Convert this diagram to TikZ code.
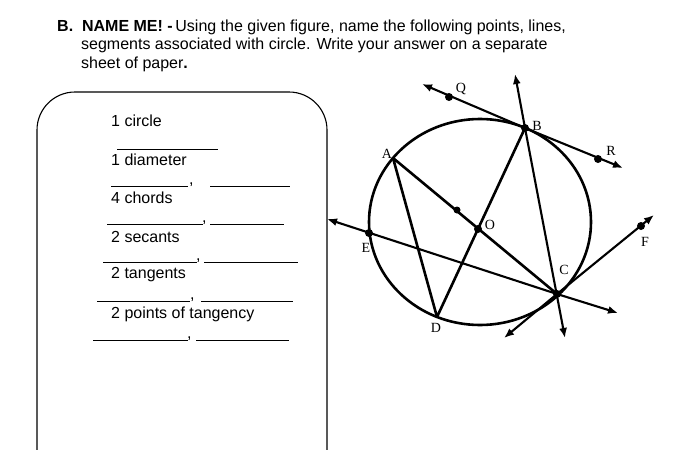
\documentclass[tikz,border=0pt]{standalone}
\usepackage{fontspec}
\usetikzlibrary{arrows.meta}
\setmainfont{Liberation Sans}
\newfontfamily\serifl{Liberation Serif}
\begin{document}
\begin{tikzpicture}[x=1pt,y=-1pt,
  txt/.style={anchor=west,inner sep=0pt,font=\fontsize{16}{18}\selectfont},
  lbl/.style={inner sep=1pt,font=\serifl\fontsize{14}{16}\selectfont},
  geo/.style={line width=2.6pt},
  arr/.style={line width=2.1pt,-{Latex[length=10pt,width=8pt]}},
  dot/.style={circle,fill,inner sep=0pt,minimum size=8pt},
  blank/.style={line width=0.9pt}]
\useasboundingbox (0,0) rectangle (686,450);
% title
\node[txt] (t1) at (57,27) {\textbf{B.\ \ NAME ME! -}\,Using the given figure, name the following points, lines,};
\node[txt] (t2) at (81,45) {segments associated with circle. Write your answer on a separate};
\node[txt] (t3) at (81,64) {sheet of paper\textbf{.}};
% box
\draw[line width=1.1pt,rounded corners=38pt] (37,460) -- (37,92) -- (327,92) -- (327,460);
\node[txt] (l1) at (111,121) {1 circle};
\draw[blank] (117,149) -- (218,149);
\node[txt] (l2) at (111,160) {1 diameter};
\draw[blank] (111,186) -- (188,186); \node[txt] (c2) at (189,185) {,}; \draw[blank] (210,186) -- (290,186);
\node[txt] (l3) at (111,198) {4 chords};
\draw[blank] (107,224) -- (203,224); \node[txt] (c3) at (202,223) {,}; \draw[blank] (210,224) -- (284,224);
\node[txt] (l4) at (111,237) {2 secants};
\draw[blank] (103,262) -- (197,262); \node[txt] (c4) at (196,261) {,}; \draw[blank] (204,262) -- (298,262);
\node[txt] (l5) at (111,275) {2 tangents};
\draw[blank] (97,301) -- (190,301); \node[txt] (c5) at (190,300) {,}; \draw[blank] (201,301) -- (293,301);
\node[txt] (l6) at (111,314) {2 points of tangency};
\draw[blank] (93,340) -- (188,340); \node[txt] (c6) at (187,339) {,}; \draw[blank] (196,340) -- (289,340);
% figure
\draw[geo] (480,222) ellipse [x radius=111,y radius=103];
\coordinate (A) at (393,158); \coordinate (B) at (525,128); \coordinate (C) at (557,294);
\coordinate (D) at (437,317); \coordinate (E) at (369,233); \coordinate (O) at (478,229);
\coordinate (Q) at (449,97); \coordinate (R) at (598,159); \coordinate (F) at (641,226);
\coordinate (q0) at (422,84); \coordinate (r0) at (623,168);
\coordinate (b0) at (515,74); \coordinate (c0) at (565,338);
\coordinate (e0) at (327,219); \coordinate (e1) at (618,313);
\coordinate (f0) at (654,215); \coordinate (f1) at (504,338);
\draw[geo] (A) -- (C) (B) -- (D) (A) -- (D);
\draw[arr] (B) -- (q0); \draw[arr] (B) -- (r0);
\draw[arr] (B) -- (b0); \draw[arr] (B) -- (c0);
\draw[arr] (C) -- (e0); \draw[arr] (C) -- (e1);
\draw[arr] (C) -- (f0); \draw[arr] (C) -- (f1);
\node[dot] (dQ) at (Q) {}; \node[dot] (dR) at (R) {}; \node[dot] (dF) at (F) {};
\node[dot] (dO) at (O) {}; \node[dot] (dE) at (E) {}; \node[dot] (dB) at (B) {};
\node[dot] (dC) at (C) {}; \node[dot,minimum size=7pt] (dm) at (457,210) {};
\node[lbl] (nA) at (387,154) {A}; \node[lbl] (nB) at (537,126) {B};
\node[lbl] (nC) at (564,270) {C}; \node[lbl] (nD) at (436,328) {D};
\node[lbl] (nE) at (366,248) {E}; \node[lbl] (nO) at (490,225) {O};
\node[lbl] (nQ) at (461,89) {Q}; \node[lbl] (nR) at (611,151) {R};
\node[lbl] (nF) at (645,242) {F};
\end{tikzpicture}
\end{document}
